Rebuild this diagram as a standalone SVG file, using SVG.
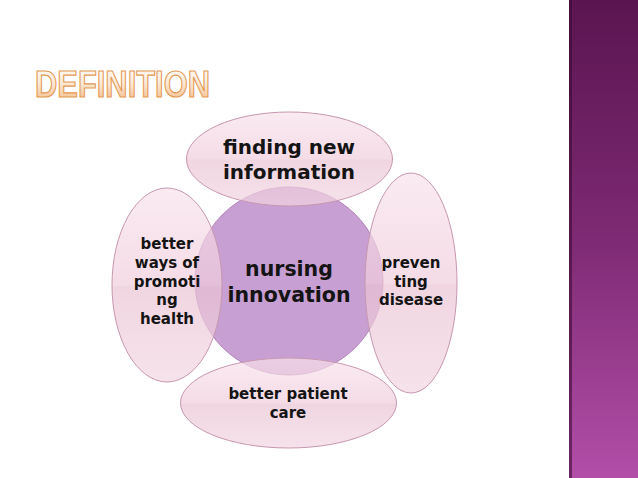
<svg xmlns="http://www.w3.org/2000/svg" width="638" height="478" viewBox="0 0 638 478">
<defs>
<linearGradient id="bar" x1="0" y1="0" x2="0" y2="1">
<stop offset="0" stop-color="#5a1550"/>
<stop offset="0.5" stop-color="#7e2a74"/>
<stop offset="1" stop-color="#b24ea8"/>
</linearGradient>
<linearGradient id="title" x1="0" y1="0" x2="0" y2="1">
<stop offset="0" stop-color="#ffffff"/>
<stop offset="0.5" stop-color="#fbe7d2"/>
<stop offset="1" stop-color="#f3b37a"/>
</linearGradient>
<linearGradient id="pink" x1="0" y1="0" x2="0" y2="1">
<stop offset="0" stop-color="#f8e2eb"/>
<stop offset="0.5" stop-color="#f0cddc"/>
<stop offset="0.51" stop-color="#eac4d4"/>
<stop offset="1" stop-color="#f2d6e2"/>
</linearGradient>
<style>
.ell{fill:url(#pink);fill-opacity:0.7;stroke:#c797b0;stroke-width:1}
.t{font-family:"DejaVu Sans",sans-serif;font-weight:bold;fill:#141414;text-anchor:middle}
</style>
</defs>
<rect width="638" height="478" fill="#ffffff"/>
<rect x="569" y="0" width="69" height="478" fill="url(#bar)"/>
<rect x="569" y="0" width="3" height="478" fill="#3a0a34" opacity="0.6"/>
<text x="35" y="97" font-family="'Liberation Sans',sans-serif" font-size="36" font-weight="bold" fill="url(#title)" stroke="#e39a55" stroke-width="1.2" textLength="175" lengthAdjust="spacingAndGlyphs">DEFINITION</text>
<g id="center">
<circle cx="289" cy="281" r="94" fill="#c89fd3" stroke="#b283b8" stroke-width="1"/>
</g>
<g id="top">
<ellipse class="ell" cx="289.5" cy="159" rx="103" ry="47"/>
</g>
<g id="bottom">
<ellipse class="ell" cx="288.5" cy="403" rx="108" ry="45"/>
</g>
<g id="left">
<ellipse class="ell" cx="167" cy="285" rx="55" ry="97"/>
</g>
<g id="right">
<ellipse class="ell" cx="411" cy="283" rx="46" ry="110"/>
</g>
<g id="labels">
<text class="t" x="289" y="276" font-size="20.5">nursing</text>
<text class="t" x="289" y="302" font-size="20.5">innovation</text>
<text class="t" x="289" y="154" font-size="20">finding new</text>
<text class="t" x="289" y="179" font-size="20">information</text>
<text class="t" x="288" y="399" font-size="15">better patient</text>
<text class="t" x="288" y="418" font-size="15">care</text>
<text class="t" x="167" y="249" font-size="15">better</text>
<text class="t" x="167" y="268" font-size="15">ways of</text>
<text class="t" x="167" y="287" font-size="15">promoti</text>
<text class="t" x="167" y="305" font-size="15">ng</text>
<text class="t" x="167" y="324" font-size="15">health</text>
<text class="t" x="411" y="268" font-size="15">preven</text>
<text class="t" x="411" y="287" font-size="15">ting</text>
<text class="t" x="411" y="305" font-size="15">disease</text>
</g>
</svg>
